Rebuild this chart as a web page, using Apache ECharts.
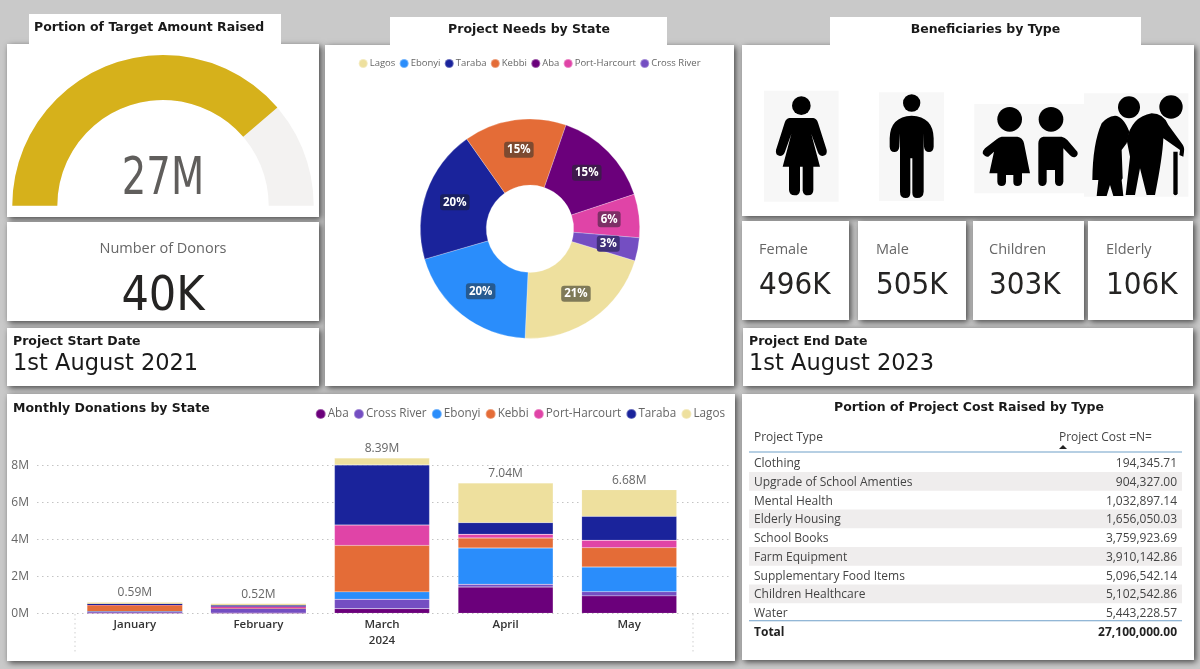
<!DOCTYPE html>
<html><head><meta charset="utf-8">
<style>html,body{margin:0;padding:0;background:#c9c9c9}#c{width:1200px;height:669px}</style>
<script src="https://cdn.jsdelivr.net/npm/echarts@6/dist/echarts.min.js"></script>
</head><body><div id="c"></div>
<script>
// ---- data ----
const months = ['January','February','March','April','May'];
const aba        = [0.03,0.03,0.25,1.42,0.94];
const crossRiver = [0.06,0.20,0.51,0.15,0.23];
const ebonyi     = [0.02,0.02,0.40,1.96,1.33];
const kebbi      = [0.32,0.02,2.51,0.54,1.05];
const portH      = [0.02,0.10,1.10,0.20,0.40];
const taraba     = [0.06,0.07,3.25,0.63,1.29];
const lagos      = [0.08,0.08,0.37,2.14,1.44];
const monthTotals = [0.59,0.52,8.39,7.04,6.68];
const barStates = ['Aba','Cross River','Ebonyi','Kebbi','Port-Harcourt','Taraba','Lagos'];
const pieStates = ['Lagos','Ebonyi','Taraba','Kebbi','Aba','Port-Harcourt','Cross River'];
const pieValues = [21.0,19.8,19.7,15.1,14.6,6.4,3.4];
const raised = 27.1, target = 35;
const projectTypes = ['Clothing','Upgrade of School Amenties','Mental Health','Elderly Housing','School Books','Farm Equipment','Supplementary Food Items','Children Healthcare','Water'];
const projectCosts = ['194,345.71','904,327.00','1,032,897.14','1,656,050.03','3,759,923.69','3,910,142.86','5,096,542.14','5,102,542.86','5,443,228.57'];
const kpiLabels = ['Female','Male','Children','Elderly'];
const kpiValues = ['496K','505K','303K','106K'];
// ---- styling ----
const colors = {Aba:'#6B007B','Cross River':'#744EC2',Ebonyi:'#2A8DFB',Kebbi:'#E46C37','Port-Harcourt':'#E044A7',Taraba:'#1A239B',Lagos:'#EEE09E'};
const labelBg = {Aba:'#3f1a4d','Cross River':'#41307a',Ebonyi:'#265a90',Kebbi:'#7d4a30','Port-Harcourt':'#7d2f66',Taraba:'#1a2060',Lagos:'#7f7a58'};
const barData = [aba,crossRiver,ebonyi,kebbi,portH,taraba,lagos];
const UI = '"Open Sans","Noto Sans",sans-serif';
const NARROW = '"Liberation Sans Narrow","DejaVu Sans Condensed",sans-serif';
const TITLE = '"DejaVu Sans",Verdana,sans-serif';
const els = [];
const shadow = {shadowBlur:6,shadowOffsetX:2,shadowOffsetY:2,shadowColor:'rgba(0,0,0,0.65)'};
function panel(x0,y0,x1,y1){els.push({type:'rect',shape:{x:x0,y:y0,width:x1-x0,height:y1-y0},style:Object.assign({fill:'#fff'},shadow)});}
function tab(x0,y0,x1,y1){els.push({type:'rect',shape:{x:x0,y:y0,width:x1-x0,height:y1-y0},style:{fill:'#fff'}});}
function text(t,x,y,font,fill,align){els.push({type:'text',style:{text:t,x:x,y:y,font:font,fill:fill,textAlign:align||'left',textVerticalAlign:'middle'}});}
function fillRect(x0,y0,x1,y1,c){els.push({type:'rect',shape:{x:x0,y:y0,width:x1-x0,height:y1-y0},style:{fill:c}});}
// panels
panel(7,44,319,217); panel(7,222,319,321); panel(7,328,319,386);
panel(325,45,734,386);
panel(742,45,1194,216);
[[742,849],[858,966],[973,1084],[1088,1193]].forEach(p=>panel(p[0],221,p[1],320));
panel(743,328,1193,386);
panel(7,394,735,661); panel(742,394,1194,660);
tab(29,14,281,46); tab(390,17,667,47); tab(830,17,1141,47);
// titles
const tFont='bold 12.5px '+TITLE;
text('Portion of Target Amount Raised',34,28,tFont,'#1a1a1a');
text('Project Needs by State',529,30,tFont,'#1a1a1a','center');
text('Beneficiaries by Type',985.5,30,tFont,'#1a1a1a','center');
text('Monthly Donations by State',13,408.5,tFont,'#1a1a1a');
text('Portion of Project Cost Raised by Type',969,408,tFont,'#1a1a1a','center');
// gauge figure
els.push({type:'text',x:163,y:181,scaleX:0.84,style:{text:Math.floor(raised)+'M',x:0,y:0,font:'51px '+NARROW,fill:'#605E5C',textAlign:'center',textVerticalAlign:'middle'}});
// donors
text('Number of Donors',163,249,'14.5px '+UI,'#666','center');
text('40K',163,298,'48px '+NARROW,'#252423','center');
// dates
text('Project Start Date',13,342,tFont,'#1a1a1a');
text('1st August 2021',13,364,'22.5px '+TITLE,'#1a1a1a');
text('Project End Date',749,342,tFont,'#1a1a1a');
text('1st August 2023',749,364,'22.5px '+TITLE,'#1a1a1a');
// kpis
[759,876,989,1106].forEach((x,i)=>{
  text(kpiLabels[i],x,250,'14.5px '+UI,'#666');
  text(kpiValues[i],x,286,'31px '+NARROW,'#252423');
});
// icons (drawn in 3x local coordinates)
let shapeId=0;
function icon(bg,paths,circles){
  const ch=[{type:'rect',shape:{x:bg[0],y:bg[1],width:bg[2]-bg[0],height:bg[3]-bg[1]},style:{fill:'#f7f7f7'}}];
  paths.forEach(d=>{
    const nm='iconShape'+(shapeId++);
    echarts.graphic.registerShape(nm,echarts.graphic.extendPath(d,{}));
    ch.push({type:nm,style:{fill:'#000'}});
  });
  circles.forEach(c=>ch.push({type:'circle',shape:{cx:c[0],cy:c[1],r:c[2]},style:{fill:'#000'}}));
  els.push({type:'group',x:740,y:10,scaleX:1/3,scaleY:1/3,children:ch});
}
icon([72,242,296,575],['M148 324 H220 Q230 326 234 338 L260 420 Q263 436 248 438 Q238 438 233 425 L214 372 L240 470 H220 V540 Q220 556 204 556 Q190 556 188 542 V470 H180 V542 Q178 556 164 556 Q148 556 147 540 V470 H128 L154 372 L135 425 Q130 438 120 438 Q105 436 108 420 L134 338 Q138 326 148 324 Z'],[[184,287,28]]);
icon([417,247,612,573],['M515 317 Q580 320 581 385 V410 Q580 426 567 426 Q554 426 552 410 L551 370 V545 Q550 564 531 564 Q517 564 517 548 V445 H511 V548 Q511 564 497 564 Q480 564 480 545 V370 L478 410 Q476 426 463 426 Q450 426 449 410 V385 Q450 320 515 317 Z'],[[515,279,26]]);
icon([703,282,1032,550],['M785 380 H832 Q848 382 852 400 L870 490 H846 V515 Q844 528 832 528 Q820 528 820 515 V495 H798 V515 Q797 528 785 528 Q773 528 772 515 V490 H748 L762 425 L745 440 Q735 442 728 430 Q728 422 735 415 L770 388 Q776 382 785 380 Z','M910 380 H965 Q975 382 982 390 L1012 425 Q1016 435 1006 441 Q998 444 990 436 L970 415 V515 Q968 528 958 528 Q946 528 945 515 V480 H920 V515 Q918 528 907 528 Q896 528 895 515 V400 Q896 382 910 380 Z'],[[809,328,37],[933,328,37]]);
icon([1032,250,1345,560],['M1125 317 Q1150 318 1168 365 L1160 400 L1145 420 L1148 505 L1145 510 L1150 558 H1120 L1110 525 L1100 558 H1070 L1075 510 H1057 Q1058 400 1085 340 Q1100 320 1125 317 Z','M1235 310 Q1270 310 1285 345 L1325 400 Q1335 412 1332 425 L1330 440 L1318 435 L1320 420 L1270 385 Q1268 440 1245 555 H1220 L1200 475 L1185 555 H1157 L1170 440 L1160 390 Q1175 320 1235 310 Z','M1300 425 H1313 V550 Q1312 556 1306 556 Q1301 556 1300 550 Z'],[[1167,292,33],[1293,291,35]]);
// table
text('Project Type',754,438,'12px '+UI,'#444');
text('Project Cost =N=',1059,438,'12px '+UI,'#444');
els.push({type:'polygon',shape:{points:[[1059,449],[1067,449],[1063,445]]},style:{fill:'#222'}});
const rowH=18.75;
projectTypes.forEach((t,i)=>{
  const y=462.7+i*rowH;
  if(i%2===1) fillRect(749,y-9.4,1182,y+9.4,'#efeded');
});
projectTypes.forEach((t,i)=>{
  const y=463.7+i*rowH;
  text(t,754,y,'12px '+UI,'#444');
  text(projectCosts[i],1177,y,'12px '+UI,'#444','right');
});
fillRect(749,451.6,1182,452.6,'#6f9fc8'); fillRect(749,620.3,1182,621.3,'#6f9fc8');
text('Total',754,633,'bold 12px '+UI,'#222');
text('27,100,000.00',1177,633,'bold 12px '+UI,'#222','right');
// vertical dotted ends of the month axis
[75,693].forEach(x=>els.push({type:'line',shape:{x1:x,y1:614,x2:x,y2:654},style:{stroke:'#cfcfcf',lineWidth:1,lineDash:[1.5,3]}}));

const series = barStates.map((n,i)=>({
  name:n,type:'bar',stack:'s',xAxisIndex:0,yAxisIndex:0,barWidth:95,
  data:barData[i].map((v,j)=>j<2?{value:v,itemStyle:{borderWidth:0}}:v),
  itemStyle:{color:colors[n],borderColor:'rgba(255,255,255,0.35)',borderWidth:0.4}
}));
series.push({name:'Total',type:'line',xAxisIndex:0,yAxisIndex:0,data:monthTotals,symbol:'circle',symbolSize:1,
  lineStyle:{width:0,opacity:0},itemStyle:{color:'rgba(0,0,0,0)'},z:5,
  label:{show:true,position:'top',distance:3,color:'#666',fontFamily:UI,fontSize:12,formatter:p=>p.value.toFixed(2)+'M'}});
series.push({type:'pie',center:[530,228.7],radius:[43.7,109.7],startAngle:-17,clockwise:true,
  data:pieStates.map((n,i)=>({name:n,value:pieValues[i],itemStyle:{color:colors[n]},
    label:{backgroundColor:labelBg[n]}})),
  itemStyle:{borderColor:'rgba(255,255,255,0.5)',borderWidth:0.5},
  label:{show:true,position:'inside',color:'#fff',fontFamily:UI,fontWeight:'bold',fontSize:11.5,padding:[2,3],borderRadius:3,
    formatter:p=>Math.round(p.value)+'%'},
  labelLine:{show:false},emphasis:{disabled:true}});
series.push({type:'gauge',center:[163,205.7],radius:150.7,startAngle:180,endAngle:0,min:0,max:target,
  data:[{value:raised}],pointer:{show:false},axisTick:{show:false},splitLine:{show:false},axisLabel:{show:false},title:{show:false},
  progress:{show:true,width:45,roundCap:false,itemStyle:{color:'#D6B11B'},overlap:false},
  axisLine:{roundCap:false,lineStyle:{width:45,color:[[1,'#F3F2F1']]}},
  detail:{show:false}});

const chart = echarts.init(document.getElementById('c'),null,{renderer:'canvas'});
chart.setOption({
  animation:false,backgroundColor:'#c9c9c9',
  graphic:{elements:els},
  legend:[
    {data:pieStates,left:357.7,top:58,padding:0,icon:'circle',itemWidth:9,itemHeight:9,itemGap:3.3,selectedMode:false,textStyle:{fontFamily:UI,fontSize:9.5,color:'#666',padding:[0,0,0,-3]}},
    {data:barStates,right:475,top:408,padding:0,icon:'circle',itemWidth:10,itemHeight:10,itemGap:4.2,selectedMode:false,textStyle:{fontFamily:UI,fontSize:11.7,color:'#666',padding:[0,0,0,-3]}}
  ],
  grid:[
    {left:73,right:1200-691,top:446.8,height:166.5},
    {left:37,right:1200-729,top:465.3,height:148}
  ],
  xAxis:[
    {type:'category',gridIndex:0,data:months,axisLine:{show:false},axisTick:{show:false},z:3,
      axisLabel:{color:'#333',fontFamily:UI,fontWeight:600,fontSize:11.5,margin:5},
      name:'2024',nameLocation:'middle',nameGap:21,nameTextStyle:{color:'#333',fontFamily:UI,fontWeight:600,fontSize:11.5}},
    {type:'category',gridIndex:1,data:months,show:false}
  ],
  yAxis:[
    {type:'value',gridIndex:0,min:0,max:9,show:false,splitLine:{show:false}},
    {type:'value',gridIndex:1,min:0,max:8,interval:2,z:1,axisLine:{show:false},axisTick:{show:false},
      axisLabel:{color:'#666',fontFamily:UI,fontSize:12,margin:8,formatter:v=>v+'M'},
      splitLine:{show:true,lineStyle:{type:[1.5,3.5],color:'#c4c4c4',width:1}}}
  ],
  series:series
});
</script></body></html>
